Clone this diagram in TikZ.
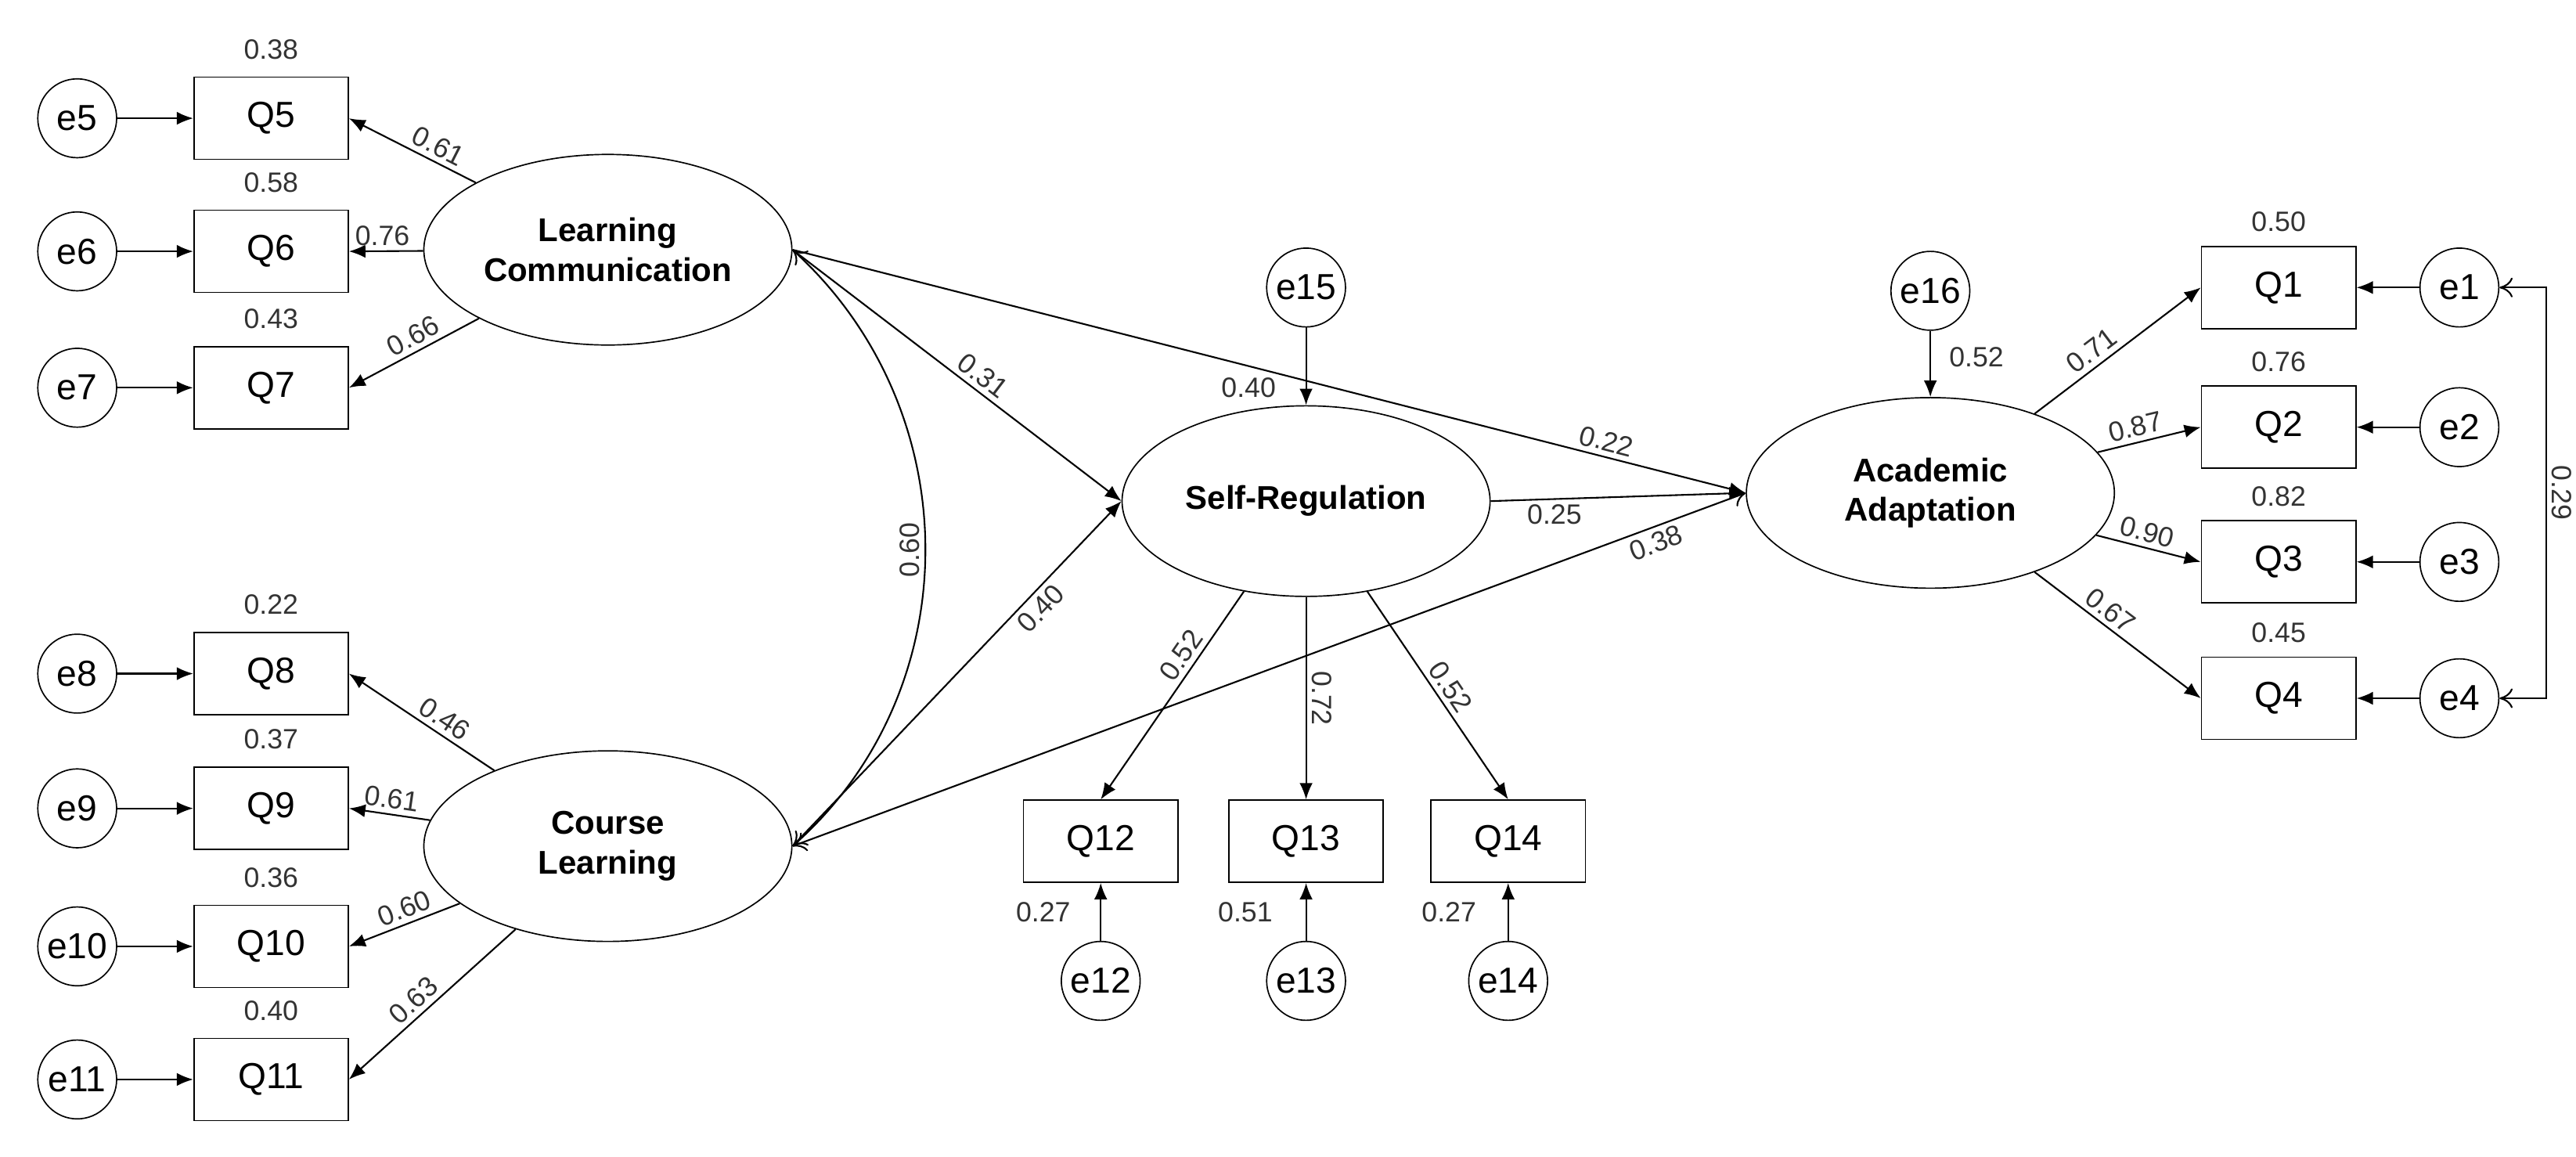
\documentclass[tikz,border=0pt]{standalone}
\usepackage{fontspec}
\setmainfont{Liberation Sans}
\usetikzlibrary{arrows.meta,shapes.geometric}
\begin{document}
\begin{tikzpicture}[x=0.5pt,y=-0.5pt,
 box/.style={draw,minimum width=47pt,minimum height=25pt,inner sep=0pt,font=\fontsize{11}{12}\selectfont},
 err/.style={draw,circle,minimum size=24pt,inner sep=0pt,font=\fontsize{11}{12}\selectfont},
 lat/.style={draw,ellipse,minimum width=112pt,minimum height=58pt,inner sep=0pt,align=center,font=\bfseries\fontsize{10}{12}\selectfont},
 ar/.style={-{Latex[length=5pt,width=4pt]},line width=0.5pt},
 cv/.style={{To[length=4pt,width=6pt]}-{To[length=4pt,width=6pt]},line width=0.5pt},
 lb/.style={font=\fontsize{8.5}{10}\selectfont,text=black!80,inner sep=1.5pt}]
\useasboundingbox (0,0) rectangle (1568,704);
% left indicators
\foreach \q/\e/\y/\r in {Q5/e5/72/0.38,Q6/e6/153/0.58,Q7/e7/236/0.43,Q8/e8/410/0.22,Q9/e9/492/0.37,Q10/e10/576/0.36,Q11/e11/657/0.40}{
 \node[box] (\q) at (165,\y) {\q};
 \node[err] (\e) at (47,\y) {\e};
 \draw[ar] (\e) -- (\q);
 \node[lb] (r\q) at (165,\y-42) {\r};
}
\node[lat] (LC) at (370,152) {Learning\\Communication};
\node[lat] (CL) at (370,515) {Course\\Learning};
\node[lat] (SR) at (795,305) {Self-Regulation};
\node[lat] (AA) at (1175,300) {Academic\\Adaptation};
\node[err] (e15) at (795,175) {e15};
\node[err] (e16) at (1175,177) {e16};
\foreach \q/\e/\x/\r/\dx in {Q12/e12/670/0.27/-35,Q13/e13/795/0.51/-37,Q14/e14/918/0.27/-36}{
 \node[box] (\q) at (\x,512) {\q};
 \node[err] (\e) at (\x,597) {\e};
 \draw[ar] (\e) -- (\q);
 \node[lb] (r\q) at (\x+\dx,555) {\r};
}
\foreach \q/\e/\y/\r in {Q1/e1/175/0.50,Q2/e2/260/0.76,Q3/e3/342/0.82,Q4/e4/425/0.45}{
 \node[box] (\q) at (1387,\y) {\q};
 \node[err] (\e) at (1497,\y) {\e};
 \draw[ar] (\e) -- (\q);
 \node[lb] (r\q) at (1387,\y-40) {\r};
}
% loadings
\draw[ar] (LC) -- node[lb,sloped,above,pos=0.35] {0.61} (Q5.east);
\draw[ar] (LC) -- node[lb,above,pos=0.55] {0.76} (Q6.east);
\draw[ar] (LC) -- node[lb,sloped,above,pos=0.45] {0.66} (Q7.east);
\draw[ar] (CL) -- node[lb,sloped,above,pos=0.4] {0.46} (Q8.east);
\draw[ar] (CL) -- node[lb,sloped,above,pos=0.5] {0.61} (Q9.east);
\draw[ar] (CL) -- node[lb,sloped,above,pos=0.45] {0.60} (Q10.east);
\draw[ar] (CL) -- node[lb,sloped,above,pos=0.55] {0.63} (Q11.east);
\draw[ar] (SR) -- node[lb,sloped,above,pos=0.35] {0.52} (Q12.north);
\draw[ar] (SR) -- node[lb,sloped,above,pos=0.5] {0.72} (Q13.north);
\draw[ar] (SR) -- node[lb,sloped,above,pos=0.5] {0.52} (Q14.north);
\draw[ar] (AA) -- node[lb,sloped,above,pos=0.4] {0.71} (Q1.west);
\draw[ar] (AA) -- node[lb,sloped,above,pos=0.4] {0.87} (Q2.west);
\draw[ar] (AA) -- node[lb,sloped,above,pos=0.45] {0.90} (Q3.west);
\draw[ar] (AA) -- node[lb,sloped,above,pos=0.4] {0.67} (Q4.west);
% structural
\draw[ar] (e15) -- (SR);
\node[lb] (l15) at (760,236) {0.40};
\draw[ar] (e16) -- node[lb,right,pos=0.4,xshift=4pt] {0.52} (AA);
\draw[ar] (LC.east) -- node[lb,sloped,above,pos=0.55] {0.31} (SR.west);
\draw[ar] (CL.east) -- node[lb,sloped,below,pos=0.72] {0.40} (SR.west);
\draw[ar] (LC.east) -- node[lb,sloped,above,pos=0.85] {0.22} (AA.west);
\draw[cv] (CL.east) -- node[lb,sloped,below,pos=0.9] {0.38} (AA.west);
\draw[ar] (SR.east) -- node[lb,below,pos=0.25] {0.25} (AA.west);
\draw[cv] (LC.east) .. controls (590,250) and (590,420) .. node[lb,sloped,above,pos=0.5,rotate=180] {0.60} (CL.east);
\draw[cv] (e1.east) -- (1550,175) -- node[lb,sloped,above] {0.29} (1550,425) -- (e4.east);
\end{tikzpicture}
\end{document}
